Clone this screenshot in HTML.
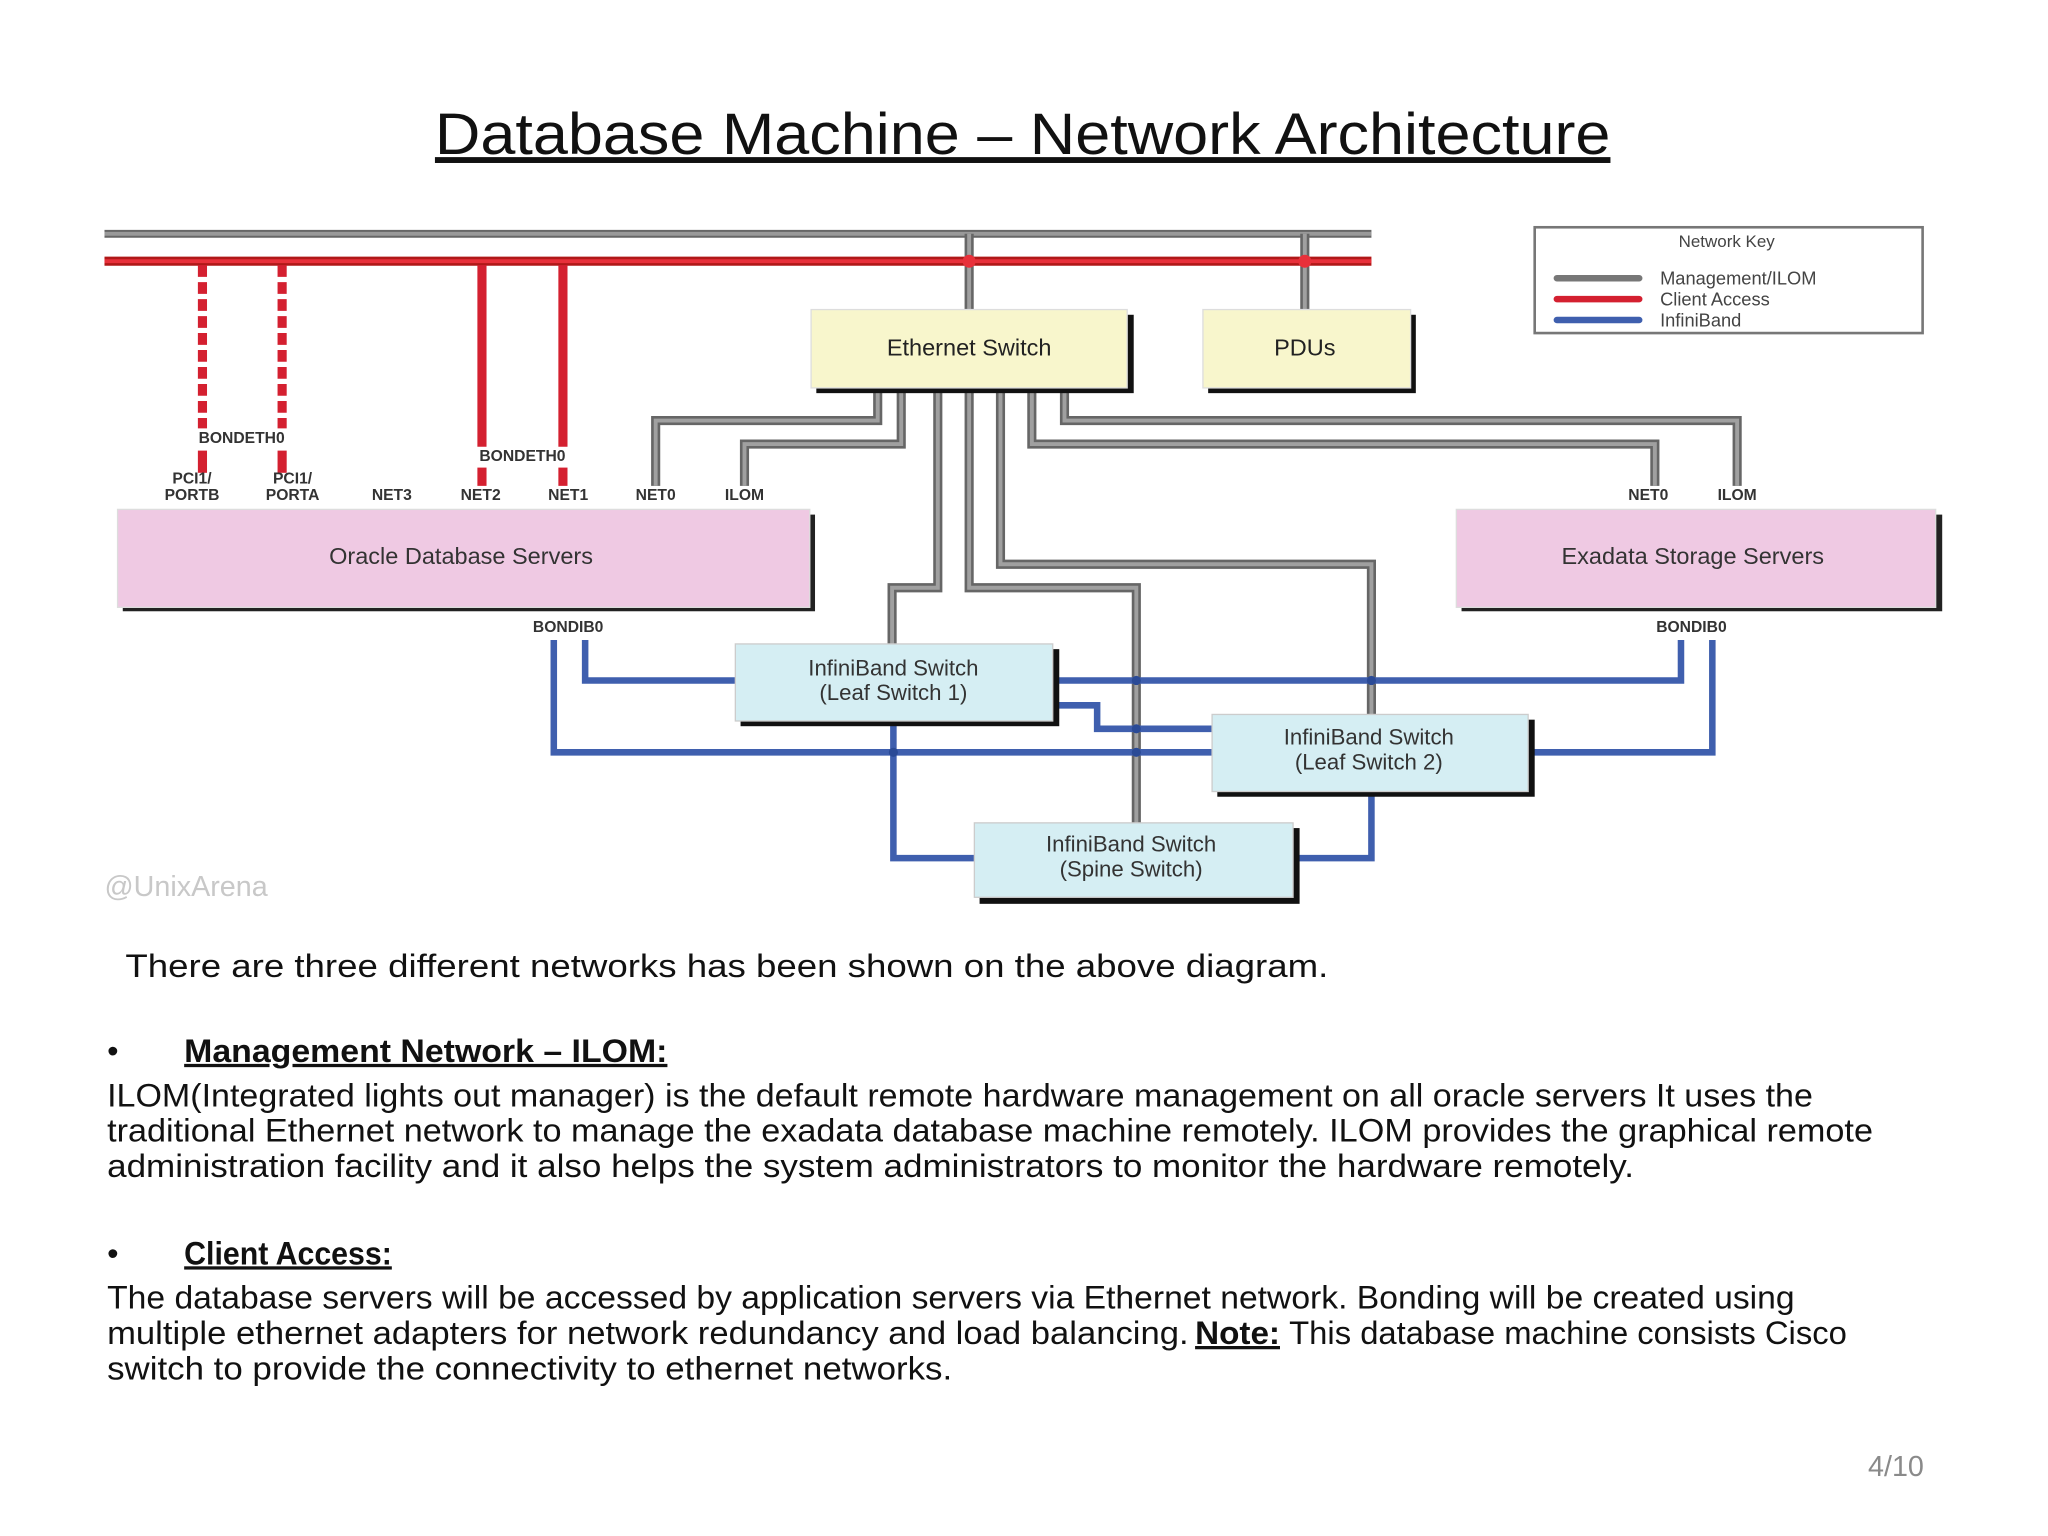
<!DOCTYPE html>
<html><head><meta charset="utf-8"><style>html,body{margin:0;padding:0;background:#fff}svg{display:block}</style></head>
<body>
<svg width="2048" height="1536" viewBox="0 0 1568 1176" xmlns="http://www.w3.org/2000/svg" font-family="Liberation Sans, sans-serif">
<rect width="1568" height="1176" fill="#fff"/>
<text x="783" y="118" font-size="45" text-anchor="middle" fill="#111" textLength="900" lengthAdjust="spacingAndGlyphs" text-decoration="underline">Database Machine – Network Architecture</text>

<line x1="80" y1="179" x2="1050" y2="179" stroke="#666" stroke-width="6"/>
<line x1="80" y1="179" x2="1050" y2="179" stroke="#999" stroke-width="3"/>
<line x1="80" y1="200" x2="1050" y2="200" stroke="#b01818" stroke-width="7"/>
<line x1="80" y1="200" x2="1050" y2="200" stroke="#e8303a" stroke-width="3"/>

<g stroke="#d42030" stroke-width="7">
<line x1="155" y1="203" x2="155" y2="328" stroke-dasharray="9 4"/>
<line x1="216" y1="203" x2="216" y2="328" stroke-dasharray="9 4"/>
<line x1="155" y1="345" x2="155" y2="362"/>
<line x1="216" y1="345" x2="216" y2="362"/>
<line x1="369" y1="203" x2="369" y2="342"/>
<line x1="431" y1="203" x2="431" y2="342"/>
<line x1="369" y1="358" x2="369" y2="372"/>
<line x1="431" y1="358" x2="431" y2="372"/>
</g>

<g fill="none" stroke-linejoin="miter">
<g stroke="#666" stroke-width="7">
<path d="M742 179V240M999 179V240"/>
<path d="M672 297V322H502V372"/>
<path d="M690 297V340H570V372"/>
<path d="M718 297V450H683V494"/>
<path d="M742 297V450H870V632"/>
<path d="M766 297V432H1050V549"/>
<path d="M790 297V340H1267V372"/>
<path d="M815 297V322H1330V372"/>
</g>
<g stroke="#a0a0a0" stroke-width="3">
<path d="M742 179V240M999 179V240"/>
<path d="M672 297V322H502V372"/>
<path d="M690 297V340H570V372"/>
<path d="M718 297V450H683V494"/>
<path d="M742 297V450H870V632"/>
<path d="M766 297V432H1050V549"/>
<path d="M790 297V340H1267V372"/>
<path d="M815 297V322H1330V372"/>
</g>
</g>
<circle cx="742" cy="200" r="5" fill="#e8303a"/>
<circle cx="999" cy="200" r="5" fill="#e8303a"/>

<rect x="625" y="241" width="243" height="60" fill="#111"/>
<rect x="621" y="237" width="242" height="60" fill="#f8f6cc" stroke="#ddd" stroke-width="1"/>
<text x="742" y="272" font-size="18" text-anchor="middle" fill="#222">Ethernet Switch</text>
<rect x="925" y="241" width="159" height="60" fill="#111"/>
<rect x="921" y="237" width="159" height="60" fill="#f8f6cc" stroke="#ddd" stroke-width="1"/>
<text x="999" y="272" font-size="18" text-anchor="middle" fill="#222">PDUs</text>

<rect x="94" y="394" width="530" height="74" fill="#222"/>
<rect x="90" y="390" width="530" height="75" fill="#efc9e3" stroke="#ddd" stroke-width="1"/>
<text x="353" y="432" font-size="18" text-anchor="middle" fill="#333">Oracle Database Servers</text>
<rect x="1119" y="394" width="368" height="74" fill="#222"/>
<rect x="1115" y="390" width="367" height="75" fill="#efc9e3" stroke="#ddd" stroke-width="1"/>
<text x="1296" y="432" font-size="18" text-anchor="middle" fill="#333">Exadata Storage Servers</text>

<g font-size="12" font-weight="bold" fill="#333" text-anchor="middle">
<text x="185" y="339">BONDETH0</text>
<text x="400" y="353">BONDETH0</text>
<text x="147" y="370">PCI1/</text><text x="147" y="383">PORTB</text>
<text x="224" y="370">PCI1/</text><text x="224" y="383">PORTA</text>
<text x="300" y="383">NET3</text>
<text x="368" y="383">NET2</text>
<text x="435" y="383">NET1</text>
<text x="502" y="383">NET0</text>
<text x="570" y="383">ILOM</text>
<text x="1262" y="383">NET0</text>
<text x="1330" y="383">ILOM</text>
<text x="435" y="484">BONDIB0</text>
<text x="1295" y="484">BONDIB0</text>
</g>

<g fill="none" stroke="#3f5fae" stroke-width="5">
<path d="M424 490V576H930"/>
<path d="M448 490V521H565"/>
<path d="M806 521H1287V490"/>
<path d="M1170 576H1311V490"/>
<path d="M806 540H840V558H930"/>
<path d="M684 552V657H748"/>
<path d="M1050 606V657H990"/>
</g>
<g fill="#2a4a96">
<circle cx="870" cy="521" r="3.5"/><circle cx="1050" cy="521" r="3.5"/>
<circle cx="870" cy="558" r="3.5"/><circle cx="870" cy="576" r="3.5"/>
<circle cx="684" cy="576" r="3.5"/>
</g>

<rect x="567" y="497" width="244" height="59" fill="#111"/>
<rect x="563" y="493" width="243" height="59" fill="#d5eef3" stroke="#ccc" stroke-width="1"/>
<text x="684" y="517" font-size="17" text-anchor="middle" fill="#333">InfiniBand Switch</text>
<text x="684" y="536" font-size="17" text-anchor="middle" fill="#333">(Leaf Switch 1)</text>
<rect x="932" y="551" width="243" height="59" fill="#111"/>
<rect x="928" y="547" width="242" height="59" fill="#d5eef3" stroke="#ccc" stroke-width="1"/>
<text x="1048" y="570" font-size="17" text-anchor="middle" fill="#333">InfiniBand Switch</text>
<text x="1048" y="589" font-size="17" text-anchor="middle" fill="#333">(Leaf Switch 2)</text>
<rect x="750" y="634" width="245" height="58" fill="#111"/>
<rect x="746" y="630" width="244" height="57" fill="#d5eef3" stroke="#ccc" stroke-width="1"/>
<text x="866" y="652" font-size="17" text-anchor="middle" fill="#333">InfiniBand Switch</text>
<text x="866" y="671" font-size="17" text-anchor="middle" fill="#333">(Spine Switch)</text>

<rect x="1175" y="174" width="297" height="81" fill="#fff" stroke="#777" stroke-width="2"/>
<text x="1322" y="189" font-size="13" text-anchor="middle" fill="#444">Network Key</text>
<line x1="1192" y1="213" x2="1255" y2="213" stroke="#777" stroke-width="5" stroke-linecap="round"/>
<line x1="1192" y1="229" x2="1255" y2="229" stroke="#d42030" stroke-width="5" stroke-linecap="round"/>
<line x1="1192" y1="245" x2="1255" y2="245" stroke="#3f5fae" stroke-width="5" stroke-linecap="round"/>
<g font-size="14" fill="#444">
<text x="1271" y="218">Management/ILOM</text>
<text x="1271" y="234">Client Access</text>
<text x="1271" y="250">InfiniBand</text>
</g>

<text x="80" y="686" font-size="22" fill="#c8c8c8">@UnixArena</text>

<g font-size="25" fill="#111">
<text x="96" y="748" textLength="921" lengthAdjust="spacingAndGlyphs">There are three different networks has been shown on the above diagram.</text>
<text x="82" y="813">•</text>
<text x="141" y="813" font-weight="bold" text-decoration="underline" textLength="370" lengthAdjust="spacingAndGlyphs">Management Network –  ILOM:</text>
<text x="82" y="847" textLength="1306" lengthAdjust="spacingAndGlyphs">ILOM(Integrated lights out manager) is the default remote hardware management on all oracle servers It uses the</text>
<text x="82" y="874" textLength="1352" lengthAdjust="spacingAndGlyphs">traditional Ethernet network to manage the exadata database machine remotely. ILOM provides the graphical remote</text>
<text x="82" y="901" textLength="1169" lengthAdjust="spacingAndGlyphs">administration facility and   it also helps the system administrators to monitor the hardware remotely.</text>
<text x="82" y="968">•</text>
<text x="141" y="968" font-weight="bold" text-decoration="underline" textLength="159" lengthAdjust="spacingAndGlyphs">Client Access:</text>
<text x="82" y="1002" textLength="1292" lengthAdjust="spacingAndGlyphs">The database servers will be accessed by application servers via Ethernet network. Bonding will be created using</text>
<text x="82" y="1029" textLength="828" lengthAdjust="spacingAndGlyphs">multiple ethernet adapters for network redundancy and load balancing.</text>
<text x="915" y="1029" font-weight="bold" text-decoration="underline" textLength="65" lengthAdjust="spacingAndGlyphs">Note:</text>
<text x="987" y="1029" textLength="427" lengthAdjust="spacingAndGlyphs">This database machine consists Cisco</text>
<text x="82" y="1056" textLength="647" lengthAdjust="spacingAndGlyphs">switch to provide the connectivity to ethernet networks.</text>
</g>
<text x="1473" y="1130" font-size="22" fill="#8a8a8a" text-anchor="end">4/10</text>
</svg>
</body></html>
